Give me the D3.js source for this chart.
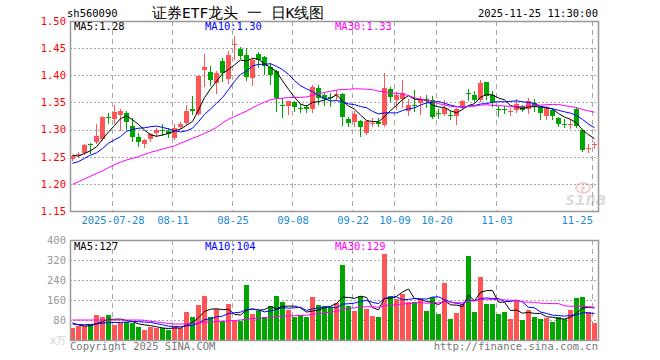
<!DOCTYPE html>
<html><head><meta charset="utf-8">
<script src="https://cdn.jsdelivr.net/npm/d3@7"></script>
<style>
body{margin:0;background:#fff}
svg{display:block}
text{font-family:"DejaVu Sans Mono",monospace}
</style></head>
<body><svg id="c" width="660" height="360"></svg>
<script>
const dates = [
"2025-07-17","2025-07-18","2025-07-21","2025-07-22","2025-07-23","2025-07-24","2025-07-25","2025-07-28","2025-07-29","2025-07-30","2025-07-31",
"2025-08-01","2025-08-04","2025-08-05","2025-08-06","2025-08-07","2025-08-08","2025-08-11","2025-08-12","2025-08-13","2025-08-14","2025-08-15",
"2025-08-18","2025-08-19","2025-08-20","2025-08-21","2025-08-22","2025-08-25","2025-08-26","2025-08-27","2025-08-28","2025-08-29",
"2025-09-01","2025-09-02","2025-09-03","2025-09-04","2025-09-05","2025-09-08","2025-09-09","2025-09-10","2025-09-11","2025-09-12",
"2025-09-15","2025-09-16","2025-09-17","2025-09-18","2025-09-19","2025-09-22","2025-09-23","2025-09-24","2025-09-25","2025-09-26",
"2025-09-29","2025-09-30","2025-10-09","2025-10-10","2025-10-13","2025-10-14","2025-10-15","2025-10-16","2025-10-17","2025-10-20",
"2025-10-21","2025-10-22","2025-10-23","2025-10-24","2025-10-27","2025-10-28","2025-10-29","2025-10-30","2025-10-31",
"2025-11-03","2025-11-04","2025-11-05","2025-11-06","2025-11-07","2025-11-10","2025-11-11","2025-11-12","2025-11-13","2025-11-14",
"2025-11-17","2025-11-18","2025-11-19","2025-11-20","2025-11-21","2025-11-24","2025-11-25"];

const open = [1.246,1.2525,1.257,1.2735,1.277,1.283,1.323,1.320,1.327,1.330,1.3066,1.287,1.273,1.282,1.293,1.300,1.298,1.285,1.305,1.312,
1.338,1.328,1.409,1.4055,1.385,1.426,1.393,1.455,1.449,1.437,1.395,1.440,1.433,1.416,1.408,1.345,1.343,1.351,1.3405,1.342,
1.337,1.377,1.363,1.3595,1.364,1.365,1.320,1.314,1.316,1.294,1.311,1.314,1.308,1.374,1.354,1.356,1.334,1.345,1.349,1.356,
1.354,1.330,1.328,1.3265,1.325,1.342,1.3675,1.363,1.355,1.387,1.363,1.3385,1.338,1.332,1.336,1.343,1.338,1.349,1.341,1.325,
1.3355,1.322,1.3095,1.308,1.338,1.300,1.265,1.271];
const high = [1.254,1.259,1.274,1.276,1.311,1.325,1.330,1.345,1.337,1.3345,1.321,1.293,1.283,1.294,1.302,1.311,1.303,1.311,1.314,1.345,
1.362,1.401,1.440,1.418,1.408,1.432,1.444,1.472,1.453,1.450,1.431,1.443,1.436,1.423,1.410,1.358,1.353,1.352,1.347,1.346,
1.383,1.382,1.367,1.368,1.373,1.367,1.324,1.334,1.318,1.318,1.322,1.322,1.405,1.378,1.370,1.391,1.356,1.373,1.362,1.363,
1.362,1.3385,1.355,1.334,1.340,1.354,1.375,1.371,1.392,1.388,1.371,1.343,1.344,1.339,1.356,1.346,1.359,1.357,1.344,1.344,
1.337,1.323,1.320,1.320,1.342,1.301,1.274,1.278];
const low = [1.244,1.250,1.255,1.257,1.276,1.281,1.313,1.313,1.300,1.3005,1.2785,1.270,1.267,1.279,1.289,1.290,1.286,1.283,1.302,1.311,
1.328,1.326,1.380,1.383,1.367,1.390,1.385,1.430,1.432,1.392,1.383,1.415,1.402,1.384,1.335,1.323,1.328,1.334,1.333,1.332,
1.332,1.348,1.345,1.343,1.357,1.309,1.307,1.306,1.288,1.292,1.307,1.306,1.306,1.352,1.337,1.342,1.326,1.335,1.328,1.342,
1.322,1.321,1.326,1.320,1.311,1.340,1.354,1.352,1.353,1.356,1.343,1.325,1.330,1.326,1.332,1.334,1.330,1.334,1.320,1.320,
1.320,1.306,1.305,1.302,1.305,1.260,1.258,1.266];
const close = [1.252,1.2555,1.272,1.273,1.288,1.323,1.321,1.333,1.335,1.3145,1.287,1.2777,1.281,1.292,1.300,1.2995,1.292,1.303,1.310,1.335,
1.334,1.399,1.416,1.3905,1.405,1.405,1.438,1.457,1.436,1.396,1.429,1.429,1.417,1.401,1.358,1.3435,1.352,1.342,1.340,1.338,
1.379,1.358,1.357,1.359,1.366,1.323,1.312,1.328,1.305,1.3156,1.313,1.310,1.376,1.360,1.363,1.367,1.346,1.344,1.357,1.355,
1.323,1.3295,1.339,1.326,1.338,1.352,1.367,1.355,1.386,1.362,1.350,1.338,1.3375,1.3335,1.348,1.336,1.3525,1.342,1.330,1.340,
1.325,1.311,1.309,1.3095,1.306,1.262,1.2665,1.273];
const volume = [49,57,57,64,100,91,100,60,67,73,69,53,40,53,49,47,40,53,49,113,
93,140,176,93,123,76,144,80,75,220,104,116,93,136,176,153,120,93,100,93,
173,140,136,133,147,300,136,116,176,124,96,92,344,176,164,184,152,152,164,116,
172,104,228,84,108,144,336,112,252,144,144,104,112,84,156,80,120,92,84,88,
72,92,84,120,168,172,112,68];

// moving-average values before enough history is on screen
const ma5Head = [1.253,1.251,1.256,1.261];
const ma10Head = [1.238,1.241,1.247,1.253,1.257,1.265,1.275,1.281,1.287];
const ma30Head = [1.199,1.204,1.209,1.214,1.219,1.224,1.230,1.235,1.240,1.244,1.247,1.250,1.254,1.258,1.261,
1.264,1.267,1.270,1.275,1.279,1.284,1.288,1.293,1.298,1.304,1.312,1.319,1.324,1.329];
const vma5Head = [68,60,56,57];
const vma10Head = [64,62,61,62,64,67,70,70,70];
const vma30Head = [80,80,80,80,80,80,80,80,80,80,80,80,79,75,72,70,66,64,64,64,65,68,71,72,74,75,77,78,80];

const priceTicks = [1.15,1.20,1.25,1.30,1.35,1.40,1.45,1.50];
const volTicks = [80,160,240,320,400];
const tickDates = ["2025-07-28","2025-08-11","2025-08-25","2025-09-08","2025-09-22","2025-10-09","2025-10-20","2025-11-03","2025-11-25"];
const tickLabels = ["2025-07-28","08-11","08-25","09-08","09-22","10-09","10-20","11-03","11-25"];
const priceLegend = [["MA5:","1.28"],["MA10:","1.30"],["MA30:","1.33"]];
const volLegend = [["MA5:","127"],["MA10:","104"],["MA30:","129"]];

function movingAvg(vals, n, head){
  return vals.map((v,i)=> i>=n-1 ? d3.mean(vals.slice(i-n+1,i+1)) : head[i]);
}
const ma5 = movingAvg(close,5,ma5Head), ma10 = movingAvg(close,10,ma10Head), ma30 = movingAvg(close,30,ma30Head);
const vma5 = movingAvg(volume,5,vma5Head), vma10 = movingAvg(volume,10,vma10Head), vma30 = movingAvg(volume,30,vma30Head);

const L=70, R=598, PT=21, PB=211, VT=240, VB=340;
const UP="#ff5555", DOWN="#00a600", GRID="#a8a8a8", FRAME="#999";
const maColors = ["#000000","#0000ff","#ff00ff"];

const svg = d3.select("#c");
const x = d3.scaleBand().domain(dates).range([L,R]);
const y = d3.scaleLinear().domain([1.15,1.50]).range([PB,PT]);
const yv = d3.scaleLinear().domain([0,400]).range([VB,VT]);
const bx = d => Math.round(x(d));
const cx = d => bx(d)+2.5;

// horizontal dotted gridlines
svg.append("g").selectAll("line").data(priceTicks.slice(1,-1)).join("line")
  .attr("x1",L).attr("x2",R).attr("y1",d=>Math.round(y(d))+0.5).attr("y2",d=>Math.round(y(d))+0.5)
  .attr("stroke",GRID).attr("stroke-dasharray","2,2");
svg.append("g").selectAll("line").data(volTicks.slice(0,-1)).join("line")
  .attr("x1",L).attr("x2",R).attr("y1",d=>Math.round(yv(d))+0.5).attr("y2",d=>Math.round(yv(d))+0.5)
  .attr("stroke",GRID).attr("stroke-dasharray","2,2");
// vertical dashed gridlines
[[PT,PB],[VT,VB]].forEach(([a,b])=>{
  svg.append("g").selectAll("line").data(tickDates).join("line")
    .attr("x1",d=>bx(d)+0.5).attr("x2",d=>bx(d)+0.5).attr("y1",a).attr("y2",b)
    .attr("stroke",GRID).attr("stroke-dasharray","5,4");
});

// watermark
const wm = svg.append("g").attr("opacity",0.35);
wm.append("ellipse").attr("cx",583).attr("cy",188).attr("rx",7).attr("ry",5).attr("fill","none").attr("stroke","#e07070").attr("stroke-width",2);
wm.append("circle").attr("cx",583).attr("cy",188).attr("r",2).attr("fill","#e07070");
wm.append("text").attr("x",565).attr("y",205).attr("font-size",17).attr("font-weight","bold").attr("font-style","italic")
  .attr("font-family","DejaVu Sans").attr("fill","#999").text("sina");

// candles
const cg = svg.append("g");
dates.forEach((d,i)=>{
  const col = close[i]>=open[i] ? UP : DOWN;
  cg.append("line").attr("x1",cx(d)).attr("x2",cx(d))
    .attr("y1",Math.round(y(high[i]))).attr("y2",Math.round(y(low[i]))+1).attr("stroke",col);
  const t = Math.round(y(Math.max(open[i],close[i]))), b = Math.round(y(Math.min(open[i],close[i])));
  cg.append("rect").attr("x",bx(d)).attr("width",5).attr("y",t).attr("height",Math.max(1,b-t)).attr("fill",col);
});

// volume bars
svg.append("g").selectAll("rect").data(dates).join("rect")
  .attr("x",d=>bx(d)).attr("width",5)
  .attr("y",(d,i)=>Math.round(yv(volume[i]))).attr("height",(d,i)=>VB-Math.round(yv(volume[i])))
  .attr("fill",(d,i)=> close[i]>=open[i] ? UP : DOWN);

// MA lines
[[ma5,ma10,ma30],[vma5,vma10,vma30]].forEach((set,k)=>{
  const sc = k===0 ? y : yv;
  set.forEach((arr,j)=>{
    svg.append("path").datum(arr).attr("fill","none").attr("stroke",maColors[j]).attr("stroke-width",1)
      .attr("d", d3.line().x((v,i)=>cx(dates[i])).y(v=>sc(v)));
  });
});

// frames
svg.append("rect").attr("x",L+0.5).attr("y",PT+0.5).attr("width",R-L).attr("height",PB-PT).attr("fill","none").attr("stroke",FRAME).attr("stroke-width",1.5);
svg.append("rect").attr("x",L+0.5).attr("y",VT+0.5).attr("width",R-L).attr("height",VB-VT).attr("fill","none").attr("stroke",FRAME).attr("stroke-width",1.5);

// axes
const ay = svg.append("g").attr("transform",`translate(${L},0)`)
  .call(d3.axisLeft(y).tickValues(priceTicks).tickSize(0).tickPadding(4).tickFormat(d3.format(".2f")));
ay.select(".domain").remove();
ay.selectAll("text").attr("fill","#ff0000").attr("font-size",10.5).attr("font-family","DejaVu Sans Mono");

const av = svg.append("g").attr("transform",`translate(${L},0)`)
  .call(d3.axisLeft(yv).tickValues(volTicks).tickSize(0).tickPadding(4));
av.select(".domain").remove();
av.selectAll("text").attr("fill","#999").attr("font-size",10.5).attr("font-family","DejaVu Sans Mono");
svg.append("text").attr("x",L-4).attr("y",VB).attr("dy","0.35em").attr("text-anchor","end")
  .attr("fill","#ccc").attr("font-size",10).text("x万");

const ax = svg.append("g").attr("transform",`translate(-2,${PB})`)
  .call(d3.axisBottom(x).tickValues(tickDates).tickSize(0).tickPadding(6).tickFormat((d,i)=>tickLabels[i]));
ax.select(".domain").remove();
ax.selectAll("text").attr("fill","#1a8ad4").attr("font-size",10.5).attr("font-family","DejaVu Sans Mono");
// last label is kept inside the frame: right-aligned on its gridline
ax.selectAll(".tick").filter(d=>d===tickDates[tickDates.length-1]).select("text")
  .attr("text-anchor","end").attr("x",0);

// legends
const legX = [74,205,335];
[[priceLegend,30],[volLegend,250]].forEach(([leg,yy])=>{
  leg.forEach((p,j)=>{
    svg.append("text").attr("x",legX[j]).attr("y",yy).attr("font-size",10.5).attr("fill",maColors[j]).text(p[0]+p[1]);
  });
});

// header
svg.append("text").attr("x",67).attr("y",17).attr("font-size",10.5).attr("fill","#000").text("sh560090");
svg.append("text").attr("x",152).attr("y",18).attr("font-size",14.5).attr("fill","#000")
  .attr("font-family","Noto Sans CJK SC").text("证券ETF龙头 一 日K线图");
svg.append("text").attr("x",598).attr("y",17).attr("text-anchor","end").attr("font-size",10.5).attr("fill","#000").text("2025-11-25 11:30:00");

// footer
svg.append("text").attr("x",70).attr("y",350).attr("font-size",10.5).attr("fill","#777").text("Copyright 2025 SINA.COM");
svg.append("text").attr("x",598).attr("y",350).attr("text-anchor","end").attr("font-size",10.5).attr("fill","#777").text("http://finance.sina.com.cn");
</script></body></html>
